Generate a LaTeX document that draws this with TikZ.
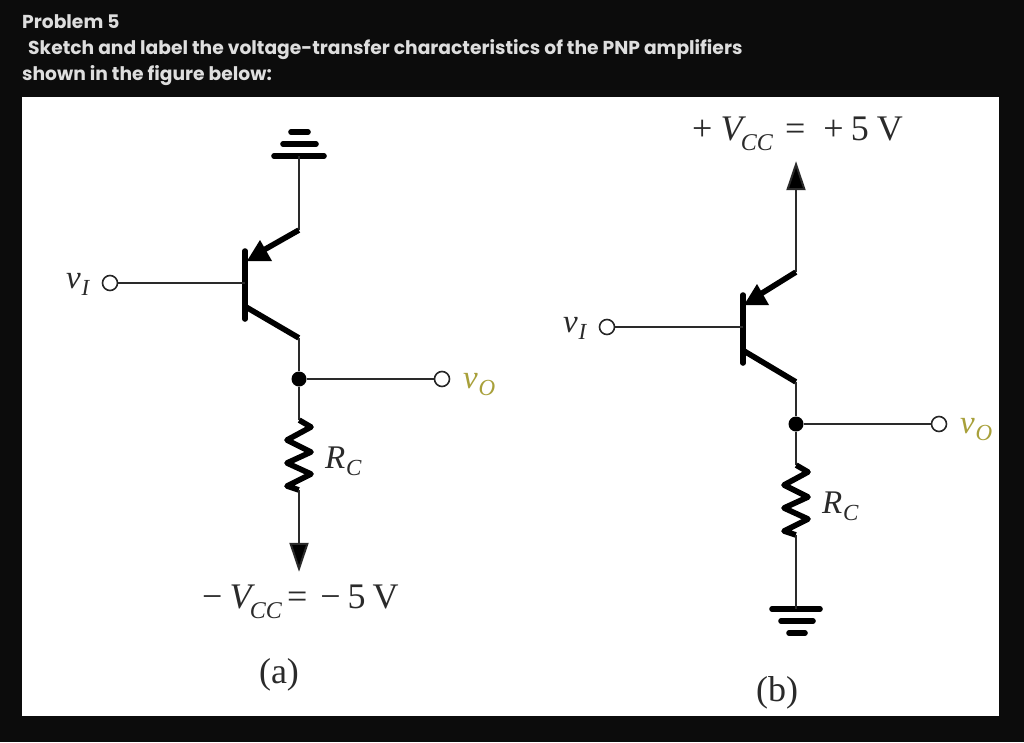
\documentclass[tikz,border=0pt]{standalone}
\usepackage{fontspec}
\setmainfont{Liberation Serif}
\newfontfamily\headfont[UprightFont=* Medium,BoldFont=* Bold]{Poppins}
\usetikzlibrary{arrows.meta}
\definecolor{bgdark}{HTML}{0C0C0C}
\definecolor{headgrey}{HTML}{DEDEDE}
\definecolor{wirecol}{HTML}{2A2A2A}
\definecolor{labelgrey}{HTML}{2A2A2A}
\definecolor{voyellow}{HTML}{A8A03A}
\newcommand{\symsub}[2]{\textit{#1}\kern0.02em\raisebox{-0.22em}{\fontsize{23}{23}\selectfont\textit{#2}}}
\newcommand{\vccsub}{\textit{V}\kern-0.14em\raisebox{-0.28em}{\fontsize{24}{24}\selectfont\textit{CC}}}
\tikzset{
  x=1pt,y=-1pt,
  heading/.style={anchor=base west,inner sep=0pt,text=headgrey,font=\headfont\fontsize{18.7}{22}\selectfont},
  wire/.style={draw=wirecol,line width=2pt},
  thick wire/.style={draw=black,line width=5.6pt},
  ebar/.style={draw=black,line width=5.6pt,line cap=round},
  openterm/.style={circle,draw=black!85,line width=1.6pt,fill=white,minimum size=15pt,inner sep=0pt},
  junction/.style={circle,fill=black,minimum size=15pt,inner sep=0pt},
  hook/.style={inner sep=0pt,minimum size=0pt},
  supplytip/.style={-{Triangle[length=29pt,width=19pt,fill=black]}},
  lbl/.style={inner sep=0pt,text=labelgrey,anchor=base west,font=\fontsize{33}{36}\selectfont},
  ylbl/.style={lbl,text=voyellow},
  supply/.style={lbl,font=\fontsize{36}{38}\selectfont},
  caption/.style={inner sep=0pt,text=labelgrey,anchor=base,font=\fontsize{36}{38}\selectfont}
}
\begin{document}
\begin{tikzpicture}
\useasboundingbox (0,0) rectangle (1024,742);
\fill[bgdark] (0,0) rectangle (1024,742);
\fill[white] (22,97) rectangle (999,716);
\node[heading] (h1) at (22,28) {\bfseries Problem 5};
\node[heading] (h2) at (28,54) {\bfseries Sketch and label the voltage-transfer characteristics of the PNP amplifiers};
\node[heading] (h3) at (22,80) {\bfseries shown in the figure below:};

% circuit (a)
\node[hook] (ag1) at (299,156) {};
\draw[ebar] (274,156) -- (324,156);
\draw[ebar] (283,144) -- (316,144);
\draw[ebar] (291,132) -- (308,132);
\node[hook] (ae) at (299,230) {};
\node[hook] (ab) at (245,283) {};
\node[hook] (ac) at (299,338) {};
\node[openterm] (ain) at (110,283) {};
\node[junction] (aj) at (299,379) {};
\node[openterm] (aout) at (442,379) {};
\node[hook] (art) at (299,420) {};
\node[hook] (arb) at (299,490) {};
\node[hook] (atip) at (299,572) {};
\draw[wire] (ag1) -- (ae);
\draw[thick wire] (ae) -- (262,251);
\fill[black] (247,261) -- (260,240) -- (272,261) -- cycle;
\draw[ebar] (245,251) -- (245,319);
\draw[wire] (ain) -- (ab);
\draw[thick wire] (246,307) -- (ac);
\draw[wire] (ac) -- (aj);
\draw[wire] (aj) -- (aout);
\draw[wire] (aj) -- (art);
\draw[thick wire,line join=round] (art) -- (311,427) -- (287,440) -- (311,452) -- (287,463) -- (311,474) -- (287,486) -- (arb);
\draw[wire,supplytip] (arb) -- (atip);
\node[lbl] (avi) at (66,288) {\symsub{v}{I}};
\node[ylbl] (avo) at (463,388) {\symsub{v}{O}};
\node[lbl] (arc) at (325,468) {\symsub{R}{C}};
\node[supply] (avcc) at (202,608) {−\kern7pt\vccsub\kern5pt=\kern13pt−\kern7pt5\kern7pt V};
\node[caption] (acap) at (279,683) {(a)};

% circuit (b)
\node[hook] (bg1) at (796,609) {};
\draw[ebar] (772,609) -- (820,609);
\draw[ebar] (781,621) -- (813,621);
\draw[ebar] (789,633) -- (805,633);
\node[hook] (be) at (796,272) {};
\node[hook] (bb) at (743,327) {};
\node[hook] (bc) at (796,382) {};
\node[openterm] (bin) at (607,327) {};
\node[junction] (bj) at (796,424) {};
\node[openterm] (bout) at (939,424) {};
\node[hook] (brt) at (796,465) {};
\node[hook] (brb) at (796,535) {};
\node[hook] (btip) at (796,161) {};
\draw[wire,supplytip] (be) -- (btip);
\draw[thick wire] (be) -- (759,295);
\fill[black] (744,305) -- (757,284) -- (769,305) -- cycle;
\draw[ebar] (743,295) -- (743,363);
\draw[wire] (bin) -- (bb);
\draw[thick wire] (744,351) -- (bc);
\draw[wire] (bc) -- (bj);
\draw[wire] (bj) -- (bout);
\draw[wire] (bj) -- (brt);
\draw[thick wire,line join=round] (brt) -- (808,472) -- (784,485) -- (808,497) -- (784,508) -- (808,519) -- (784,531) -- (brb);
\draw[wire] (brb) -- (bg1);
\node[lbl] (bvi) at (563,332) {\symsub{v}{I}};
\node[ylbl] (bvo) at (960,433) {\symsub{v}{O}};
\node[lbl] (brc) at (822,513) {\symsub{R}{C}};
\node[supply] (bvcc) at (692,140) {+\kern8pt\vccsub\kern12pt=\kern18pt+\kern7pt5\kern8pt V};
\node[caption] (bcap) at (777,701) {(b)};
\end{tikzpicture}
\end{document}
